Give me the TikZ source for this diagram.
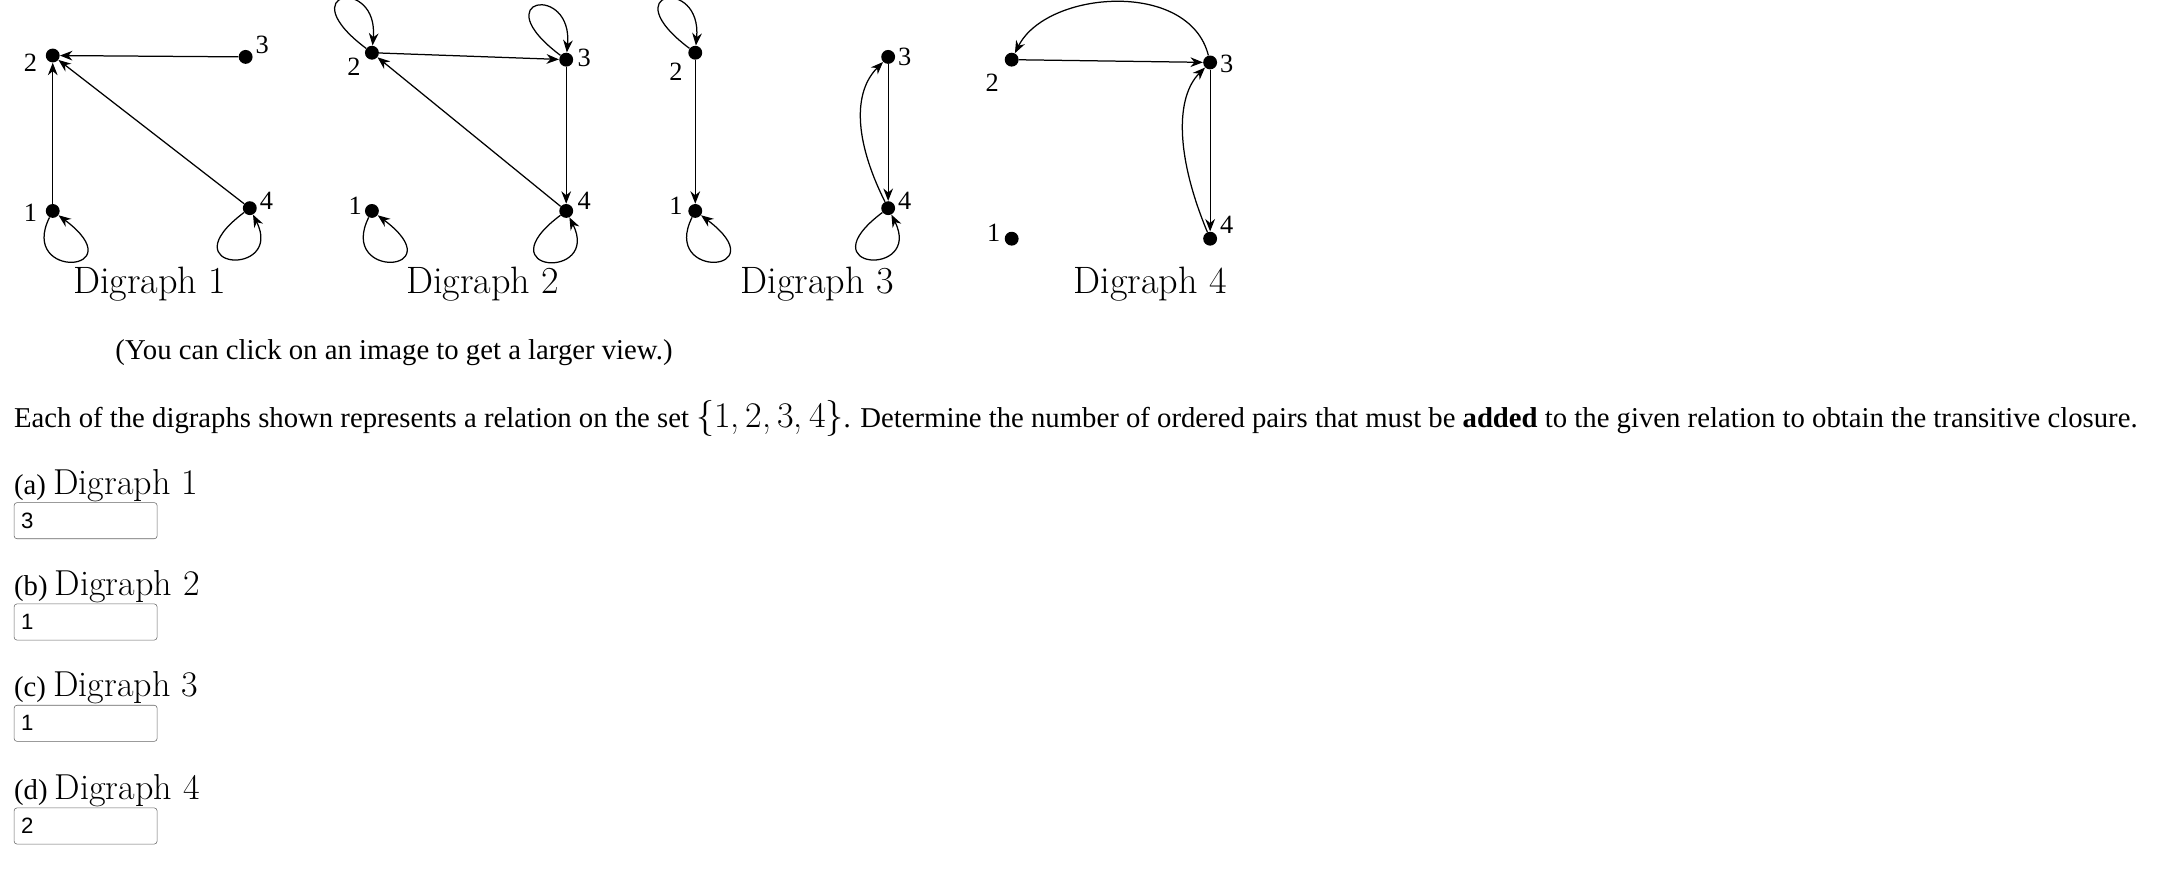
\documentclass[tikz,border=0pt]{standalone}
\usepackage{fontspec}
\setmainfont{Liberation Serif}
\newfontfamily\lmfont{Latin Modern Roman}
\newfontfamily\boxfont{Liberation Sans}
\usetikzlibrary{arrows.meta}
\begin{document}
\begin{tikzpicture}[x=1pt,y=-1pt,
  v/.style={circle,fill=black,inner sep=0pt,minimum size=10pt},
  lab/.style={font=\fontsize{19}{19}\selectfont,inner sep=0pt},
  captext/.style={font=\lmfont\fontsize{27.5}{27.5}\selectfont,inner sep=0pt},
  e/.style={draw,line width=0.9pt,-{Stealth[length=9pt,width=7pt]}},
  ans/.style={draw=black!60,rounded corners=2pt,minimum width=103pt,minimum height=26pt,anchor=north west,inner sep=0pt},
  txt/.style={font=\fontsize{20.7}{21}\selectfont,inner sep=0pt,anchor=base west}]
\useasboundingbox (0,0) rectangle (1568,631.3);
% Digraph 1
\node[v] (a2) at (38,40) {}; \node[v] (a3) at (177,41) {};
\node[v] (a1) at (38,152) {}; \node[v] (a4) at (180,150) {};
\node[lab] at (22,45) {2}; \node[lab] at (189,32) {3};
\node[lab] at (22,153) {1}; \node[lab] at (192,145) {4};
\draw[e] (a3) -- (a2); \draw[e] (a1) -- (a2); \draw[e] (a4) -- (a2);
\draw[e] (a1) .. controls +(-25,50) and +(60,45) .. (a1);
\draw[e] (a4) .. controls +(-60,45) and +(25,50) .. (a4);
\node[captext] at (108,205) {Digraph 1};
% Digraph 2
\node[v] (b2) at (268,38) {}; \node[v] (b3) at (408,43) {};
\node[v] (b1) at (268,152) {}; \node[v] (b4) at (408,152) {};
\node[lab] at (255,48) {2}; \node[lab] at (421,42) {3};
\node[lab] at (256,148) {1}; \node[lab] at (421,145) {4};
\draw[e] (b2) -- (b3); \draw[e] (b3) -- (b4); \draw[e] (b4) -- (b2);
\draw[e] (b2) .. controls +(-60,-45) and +(5,-55) .. (b2);
\draw[e] (b3) .. controls +(-60,-45) and +(5,-55) .. (b3);
\draw[e] (b1) .. controls +(-25,50) and +(60,45) .. (b1);
\draw[e] (b4) .. controls +(-60,45) and +(25,50) .. (b4);
\node[captext] at (348,205) {Digraph 2};
% Digraph 3
\node[v] (c2) at (501,38) {}; \node[v] (c1) at (501,152) {};
\node[v] (c3) at (640,41) {}; \node[v] (c4) at (640,150) {};
\node[lab] at (487,52) {2}; \node[lab] at (487,148) {1};
\node[lab] at (652,41) {3}; \node[lab] at (652,145) {4};
\draw[e] (c2) -- (c1); \draw[e] (c3) -- (c4);
\draw[e] (c4) .. controls +(-25,-50) and +(-25,25) .. (c3);
\draw[e] (c2) .. controls +(-60,-45) and +(5,-55) .. (c2);
\draw[e] (c1) .. controls +(-25,50) and +(60,45) .. (c1);
\draw[e] (c4) .. controls +(-60,45) and +(25,50) .. (c4);
\node[captext] at (589,205) {Digraph 3};
% Digraph 4
\node[v] (d2) at (729,43) {}; \node[v] (d3) at (872,45) {};
\node[v] (d1) at (729,172) {}; \node[v] (d4) at (872,172) {};
\node[lab] at (715,60) {2}; \node[lab] at (884,46) {3};
\node[lab] at (716,168) {1}; \node[lab] at (884,162) {4};
\draw[e] (d2) -- (d3); \draw[e] (d3) -- (d4);
\draw[e] (d3) .. controls +(-15,-60) and +(25,-50) .. (d2);
\draw[e] (d4) .. controls +(-25,-60) and +(-25,25) .. (d3);
\node[captext] at (829,205) {Digraph 4};
% text
\node[txt] (t1) at (83,259) {(You can click on an image to get a larger view.)};
\node[txt] (t2) at (10,308) {Each of the digraphs shown represents a relation on the set {\lmfont\fontsize{26}{26}\selectfont\{1,\,2,\,3,\,4\}}. Determine the number of ordered pairs that must be \textbf{added} to the given relation to obtain the transitive closure.};
\foreach \l/\y/\n/\v in {a/348/1/3,b/421/2/1,c/494/3/1,d/568/4/2}{
  \node[txt] (q\l) at (10,\y+8) {(\l) {\lmfont\fontsize{26}{26}\selectfont Digraph \n}};
  \node[ans] (x\l) at (10,\y+14) {};
  \node[font=\boxfont\fontsize{16}{16}\selectfont,anchor=west,inner sep=0pt] at (15,\y+27) {\v};
}
\end{tikzpicture}
\end{document}
